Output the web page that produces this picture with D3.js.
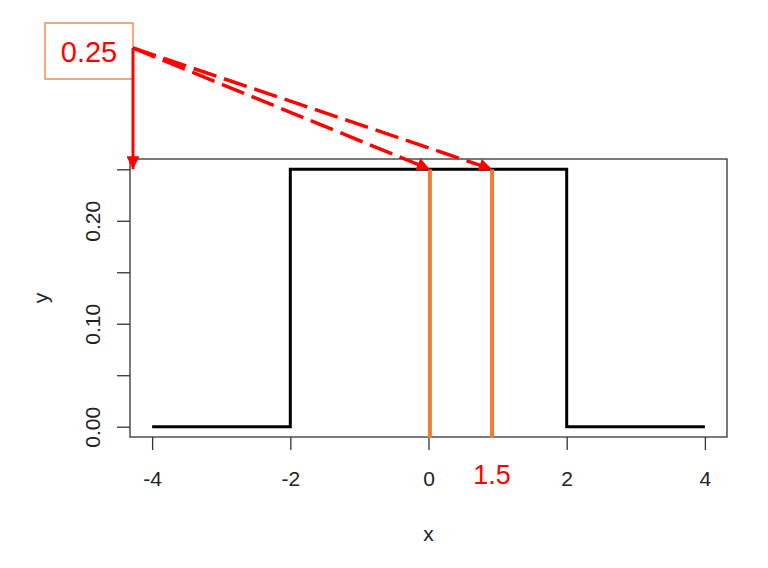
<!DOCTYPE html>
<html>
<head>
<meta charset="utf-8">
<script src="https://cdn.jsdelivr.net/npm/d3@7"></script>
<style>
  body { margin: 0; background: #fff; }
  svg { display: block; font-family: "Liberation Sans", Arial, sans-serif; }
</style>
</head>
<body>
<svg width="768" height="568"></svg>
<script>
// density of the uniform(-2, 2) distribution, drawn as a step line
const xVals = [-4, -2, -2, 2, 2, 4];
const yVals = [0, 0, 0.25, 0.25, 0, 0];
const xTicks = [-4, -2, 0, 2, 4];
const yTicks = [0, 0.05, 0.10, 0.15, 0.20, 0.25];
const yTickLabels = ['0.00', '', '0.10', '', '0.20', ''];
// annotation: orange markers and the value they point at
const markX = [0.02, 0.92];
const markLabel = '1.5';
const annotValue = 0.25;

const red = '#ff0000';
const orange = '#ed7d31';
const ink = '#222';

const svg = d3.select('svg');

// R style: axis range padded by 4% on each side
const x = d3.scaleLinear().domain([-4.32, 4.32]).range([130, 727]);
const y = d3.scaleLinear().domain([-0.01, 0.26]).range([437, 159]);

// arrowhead marker
svg.append('defs').append('marker')
  .attr('id', 'head')
  .attr('markerUnits', 'userSpaceOnUse')
  .attr('viewBox', '0 0 10 10')
  .attr('refX', 10).attr('refY', 5)
  .attr('markerWidth', 15).attr('markerHeight', 13)
  .attr('orient', 'auto')
  .append('path')
  .attr('d', 'M0,0L10,5L0,10Z')
  .attr('fill', red);

// plot frame
svg.append('rect')
  .attr('x', x.range()[0]).attr('y', y.range()[1])
  .attr('width', x.range()[1] - x.range()[0])
  .attr('height', y.range()[0] - y.range()[1])
  .attr('fill', 'none').attr('stroke', '#333').attr('stroke-width', 1.3);

// x axis (plain hyphen for negatives, like R)
const xAxis = svg.append('g').attr('transform', `translate(0,${y.range()[0]})`)
  .call(d3.axisBottom(x).tickValues(xTicks).tickSize(13).tickPadding(21).tickFormat(d => String(d)));
xAxis.select('.domain').remove();
xAxis.selectAll('line').attr('stroke', '#333').attr('stroke-width', 1.3);
xAxis.selectAll('text').attr('font-size', 21).attr('fill', ink).attr('font-family', null);

// y axis
const yAxis = svg.append('g').attr('transform', `translate(${x.range()[0]},0)`)
  .call(d3.axisLeft(y).tickValues(yTicks).tickSize(13).tickFormat((d, i) => yTickLabels[i]));
yAxis.select('.domain').remove();
yAxis.selectAll('line').attr('stroke', '#333').attr('stroke-width', 1.3);
yAxis.selectAll('text')
  .attr('font-size', 21).attr('fill', ink).attr('font-family', null)
  .attr('x', null).attr('dy', null)
  .attr('text-anchor', 'middle')
  .attr('transform', 'translate(-30,0) rotate(-90)');

// axis titles
svg.append('text')
  .attr('x', (x.range()[0] + x.range()[1]) / 2).attr('y', 541)
  .attr('text-anchor', 'middle').attr('font-size', 21).attr('fill', ink)
  .text('x');
svg.append('text')
  .attr('transform', `translate(48,${(y.range()[0] + y.range()[1]) / 2}) rotate(-90)`)
  .attr('text-anchor', 'middle').attr('font-size', 21).attr('fill', ink)
  .text('y');

// density step line
const line = d3.line().x(d => x(d[0])).y(d => y(d[1]));
svg.append('path')
  .datum(d3.zip(xVals, yVals))
  .attr('d', line)
  .attr('fill', 'none').attr('stroke', '#000').attr('stroke-width', 3);

// orange verticals from the density down to the axis
svg.selectAll('.mark')
  .data(markX)
  .enter()
  .append('line')
  .attr('class', 'mark')
  .attr('x1', d => x(d)).attr('x2', d => x(d))
  .attr('y1', y(annotValue)).attr('y2', y.range()[0] + 1)
  .attr('stroke', orange).attr('stroke-width', 4);

svg.append('text')
  .attr('x', x(markX[1])).attr('y', 484)
  .attr('text-anchor', 'middle').attr('font-size', 27).attr('fill', red)
  .text(markLabel);

// value box
const boxL = 45, boxR = 133, boxT = 23, boxB = 79;
svg.append('rect')
  .attr('x', boxL).attr('y', boxT)
  .attr('width', boxR - boxL).attr('height', boxB - boxT)
  .attr('fill', '#fff').attr('stroke', orange).attr('stroke-width', 1.3);
svg.append('text')
  .attr('x', (boxL + boxR) / 2).attr('y', 62)
  .attr('text-anchor', 'middle').attr('font-size', 29).attr('fill', red)
  .text(d3.format('.2f')(annotValue));

// arrows from the box
const start = [boxR, 48];
svg.append('line')
  .attr('x1', start[0]).attr('y1', start[1])
  .attr('x2', start[0]).attr('y2', y(annotValue))
  .attr('stroke', red).attr('stroke-width', 3)
  .attr('marker-end', 'url(#head)');

svg.selectAll('.dash')
  .data(markX)
  .enter()
  .append('line')
  .attr('class', 'dash')
  .attr('x1', start[0]).attr('y1', start[1])
  .attr('x2', d => x(d)).attr('y2', y(annotValue))
  .attr('stroke', red).attr('stroke-width', 3.5)
  .attr('stroke-dasharray', '24,8')
  .attr('marker-end', 'url(#head)');
</script>
</body>
</html>
